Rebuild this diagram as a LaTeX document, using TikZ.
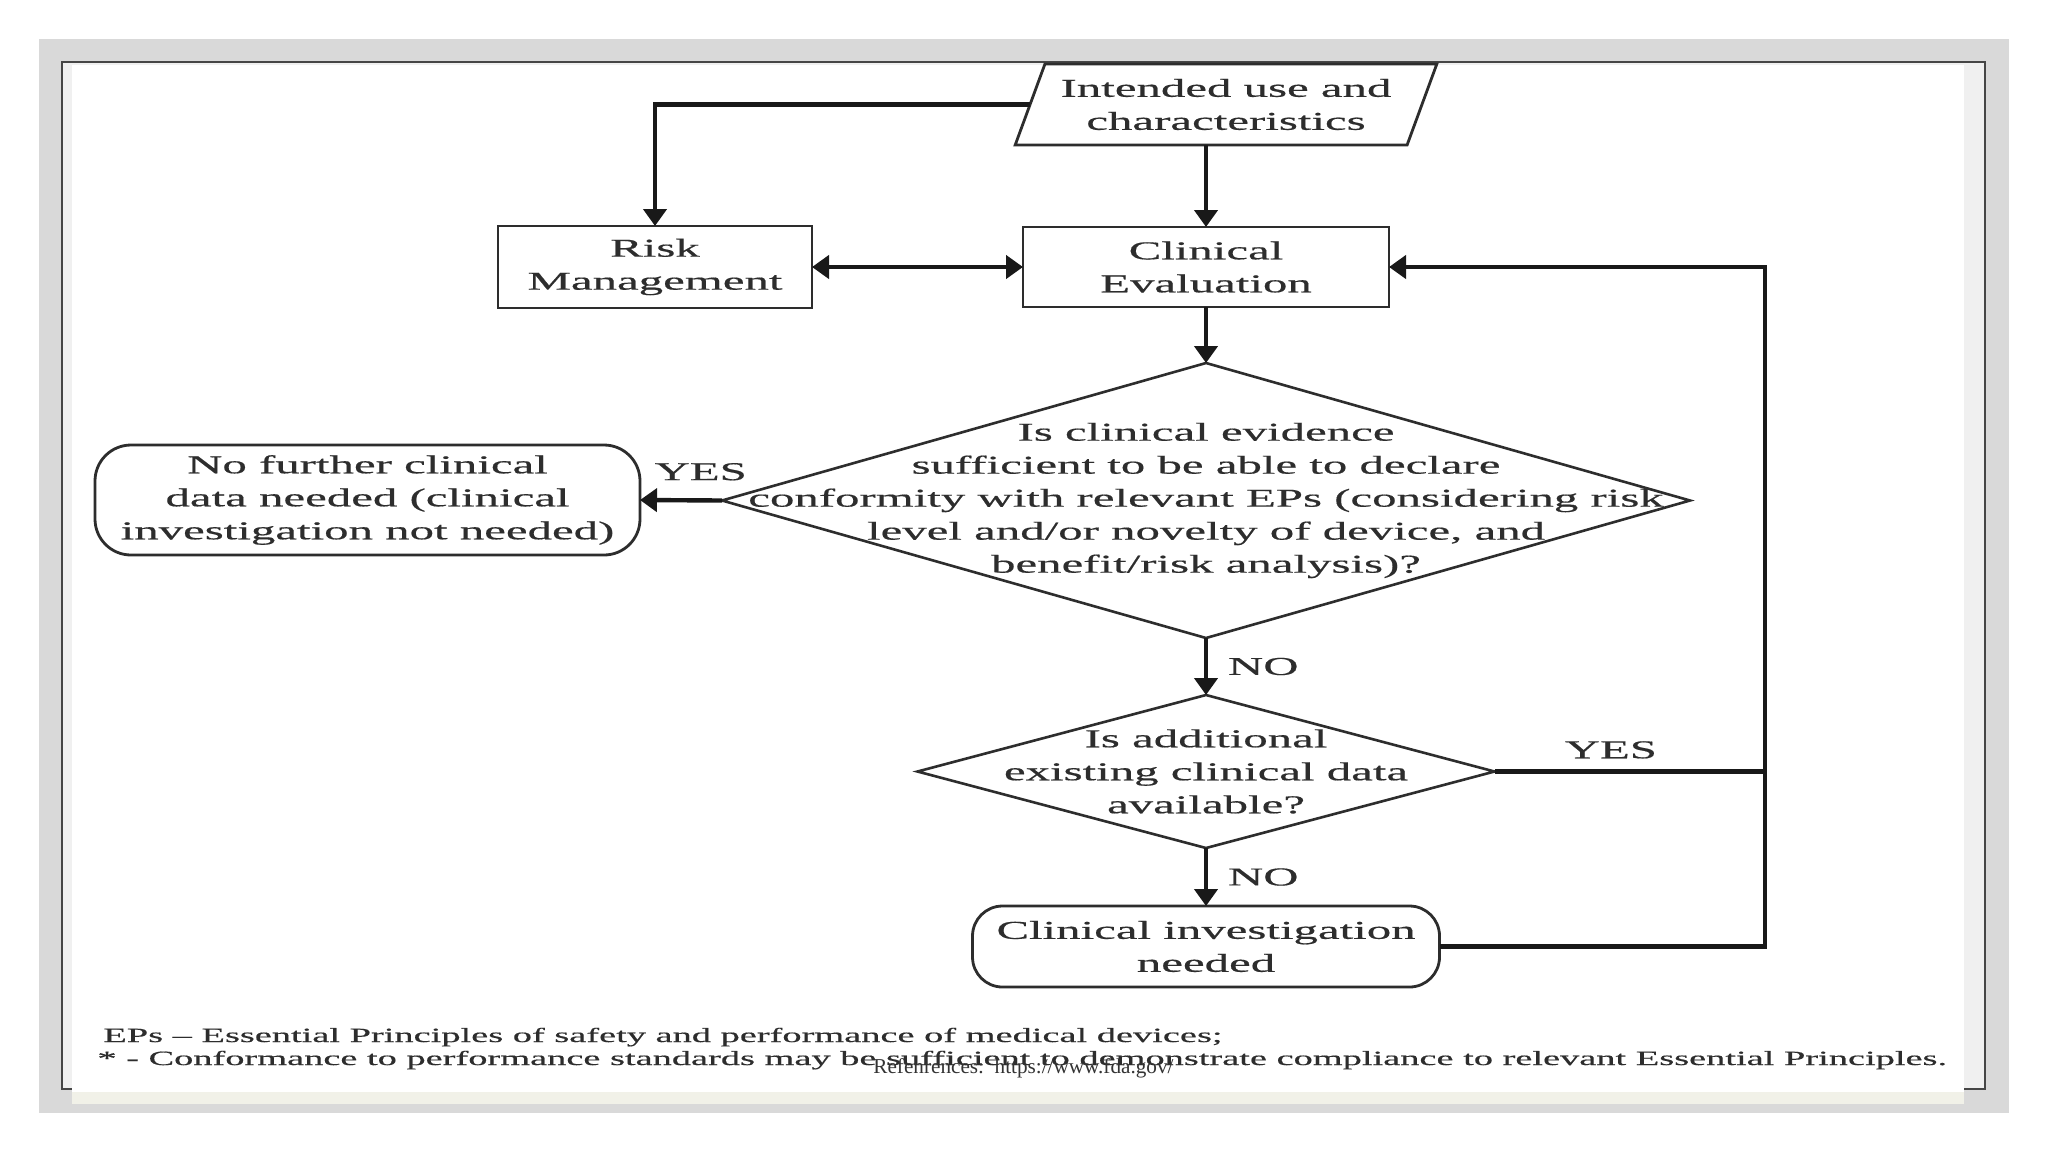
\documentclass[tikz,border=0pt]{standalone}
\usepackage{fontspec}
\setmainfont{Liberation Serif}
\newfontfamily\chartfont[FakeStretch=1.9,FakeBold=0.5]{Liberation Serif}
\newfontfamily\reffont{Liberation Serif}
\usepackage{tikz}
\usetikzlibrary{calc,positioning,arrows.meta,shapes.geometric}
\definecolor{frame}{RGB}{217,217,217}
\definecolor{ink}{RGB}{45,45,45}
\definecolor{paper}{RGB}{241,241,232}

\begin{document}
\begin{tikzpicture}[x=0.5pt,y=-0.5pt,>={Triangle[length=8.5pt,width=11.5pt]},
		txt/.style={text=ink,align=center,inner sep=0pt,outer sep=0pt,font=\chartfont\fontsize{12.85}{16.5}\selectfont},
		box/.style={txt,draw=ink,line width=1.4pt,fill=white},
		roundbox/.style={box,rounded corners=18pt},
		inputbox/.style={box,trapezium,trapezium left angle=62,trapezium right angle=118,trapezium stretches},
		decision/.style={draw=ink,line width=1.3pt,diamond,inner sep=0pt,outer sep=0pt},
		conn/.style={draw=black!90,line width=2.2pt},
		foot/.style={text=ink,inner sep=0pt,anchor=base west,font=\chartfont\fontsize{10.1}{12}\selectfont}]
		\useasboundingbox (0,0) rectangle (2048,1152);
		\fill[white] (0,0) rectangle (2048,1152);
		\fill[frame] (39,39) rectangle (2009,1113);
		\filldraw[fill=gray!12,draw=gray!55!black,line width=1pt] (62,62) rectangle (1985,1089);
		\fill[white] (72,65) rectangle (1964,1092);
		\fill[paper] (72,1092) rectangle (1964,1104);

		\node[inputbox,minimum width=211pt,minimum height=40.5pt] (intended) at (1226,104.5) {Intended use and\\characteristics};
		\node[box,minimum width=157pt,minimum height=41pt] (risk) at (655,267) {Risk\\Management};
		\node[box,minimum width=183pt,minimum height=40pt] (clineval) at (1206,267) {Clinical\\Evaluation};
		\node[decision,minimum width=484pt,minimum height=137.5pt] (q1) at (1206,500.5) {};
		\node[txt] (q1text) at (q1) {Is clinical evidence\\sufficient to be able to declare\\conformity with relevant EPs (considering risk\\level and/or novelty of device, and\\benefit/risk analysis)?};
		\node[roundbox,minimum width=272.5pt,minimum height=55pt] (nofurther) at (367.5,500) {No further clinical\\data needed (clinical\\investigation not needed)};
		\node[decision,minimum width=288.5pt,minimum height=76.5pt] (q2) at (1206,771.5) {};
		\node[txt] (q2text) at (q2) {Is additional\\existing clinical data\\available?};
		\node[roundbox,rounded corners=15pt,minimum width=233.5pt,minimum height=40.5pt] (clininv) at (1206,946.5) {Clinical investigation\\needed};
		\coordinate (loop) at (1765,267);

		\draw[conn,->] (intended.west) -| (risk.north);
		\draw[conn,->] (intended.south -| clineval.north) -- (clineval.north);
		\draw[conn,<->] (risk) -- (clineval);
		\draw[conn,->] (clineval) -- (q1);
		\draw[conn,->] (q1.west) -- node[txt,pos=.26,above=10pt] (yes1) {YES} (nofurther.east);
		\draw[conn,->] (q1) -- node[txt,right=11pt] (no1) {NO} (q2);
		\draw[conn] (q2.east) -- node[txt,pos=.43,above=6.5pt] (yes2) {YES} (q2.east -| loop);
		\draw[conn,->] (q2) -- node[txt,right=11pt] (no2) {NO} (clininv);
		\draw[conn,->] (clininv) -| (loop) -- (clineval);

		\node[foot] (fn1) at (103,1042) {EPs – Essential Principles of safety and performance of medical devices;};
		\node[foot] (fn2) at (97,1065) {* - Conformance to performance standards may be sufficient to demonstrate compliance to relevant Essential Principles.};
		\node[anchor=base west,inner sep=0pt,text=black!80,font=\reffont\fontsize{10.6}{12}\selectfont] (source) at (873,1073) {Refenrences:~~https://www.fda.gov/};
	\end{tikzpicture}
\end{document}
